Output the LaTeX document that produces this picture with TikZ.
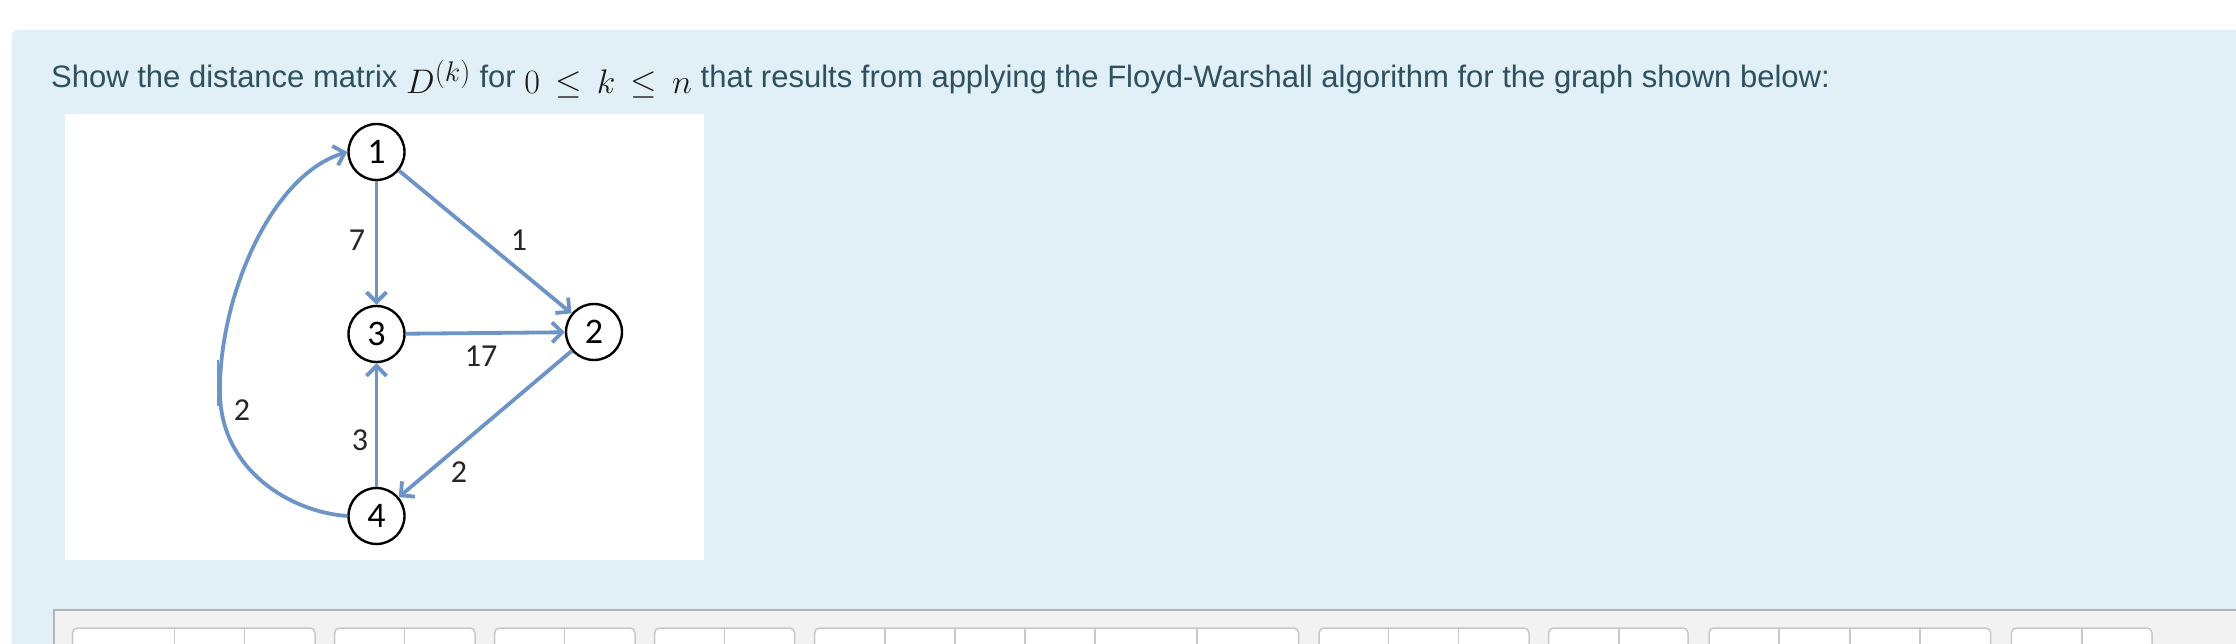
\documentclass[tikz,border=0pt]{standalone}
\usepackage{fontspec}
\setmainfont{Liberation Sans}
\newfontfamily\calib{Carlito}
\usetikzlibrary{arrows.meta}
\definecolor{panelbg}{HTML}{E1EFF6}
\definecolor{qtext}{HTML}{2E505F}
\definecolor{edgeblue}{HTML}{6C94C6}
\definecolor{boxgray}{HTML}{F2F2F2}
\definecolor{boxline}{HTML}{B5B5B5}
\definecolor{cellline}{HTML}{C8C8C8}
\newcommand\mtxgroup[3]{%
  \draw[cellbox] (#1,628) rectangle (#2,700);
  \foreach \dd in {#3} {\draw[celldiv] (\dd,628) -- (\dd,700);}%
}
\newcommand\qm[1]{\raisebox{-6pt}{\scalebox{1.37}{\color{black!90}\fontsize{24.88}{30}\selectfont$#1$}}}
\begin{document}
\begin{tikzpicture}[x=1pt,y=-1pt,
  vert/.style={circle,draw=black,line width=2.4pt,fill=white,minimum size=56pt,inner sep=0pt,font=\calib\fontsize{36}{36}\selectfont},
  edge/.style={draw=edgeblue,line width=3.8pt,-{Straight Barb[length=10pt,width=20pt]}},
  wlabel/.style={font=\calib\fontsize{32}{32}\selectfont,text=black!85,inner sep=0pt},
  cellbox/.style={draw=cellline,line width=1.5pt,fill=white,rounded corners=5pt},
  celldiv/.style={draw=cellline,line width=1.5pt},
]
\useasboundingbox (0,0) rectangle (2236,644);
\clip (0,0) rectangle (2236,644);
% panel
\fill[panelbg,rounded corners=6pt] (12,30) rectangle (2280,720);
% question text
\node[anchor=base west,inner sep=0pt,text=qtext,font=\fontsize{31}{36}\selectfont] (q) at (51,88)
  {Show the distance matrix \qm{D^{(k)}} for \qm{0 \mathrel{\,\le\,} k \mathrel{\,\le\,} n} that results from applying the Floyd-Warshall algorithm for the graph shown below:};
% image box
\fill[white] (65,114) rectangle (704,560);
% graph
\node[vert] (n1) at (376.5,152) {1};
\node[vert] (n3) at (376.5,334) {3};
\node[vert] (n2) at (594,332) {2};
\node[vert] (n4) at (376.5,516) {4};
\draw[edge] (n1) -- (n3);
\draw[edge] (n1) -- (n2);
\draw[edge] (n3) -- (n2);
\draw[edge] (n4) -- (n3);
\draw[edge] (n2) -- (n4);
\draw[edge] (n4.west) .. controls (290,512) and (222,470) .. (220,395) .. controls (218,300) and (270,175) .. (n1.west);
\draw[edgeblue,line width=2.5pt] (218,360) -- (218,406);
\node[wlabel] (l13) at (357,240) {7};
\node[wlabel] (l12) at (519,240) {1};
\node[wlabel] (l32) at (481,356) {17};
\node[wlabel] (l41) at (242,410) {2};
\node[wlabel] (l43) at (360,440) {3};
\node[wlabel] (l24) at (459,472) {2};
% answer area
\filldraw[fill=boxgray,draw=boxline,line width=2pt] (53.5,609.5) rectangle (2280,720);
\mtxgroup{72.5}{315}{174.6,244.6}
\mtxgroup{334.6}{475}{404.6}
\mtxgroup{494.6}{635}{564.3}
\mtxgroup{654.6}{794.6}{724.6}
\mtxgroup{814.6}{1298.6}{885,955,1025,1095,1196.8}
\mtxgroup{1319}{1529}{1388.6,1458.6}
\mtxgroup{1548.6}{1688}{1619}
\mtxgroup{1709}{1990.7}{1779,1850,1920}
\mtxgroup{2011.4}{2152}{2081.8}
\end{tikzpicture}
\end{document}
